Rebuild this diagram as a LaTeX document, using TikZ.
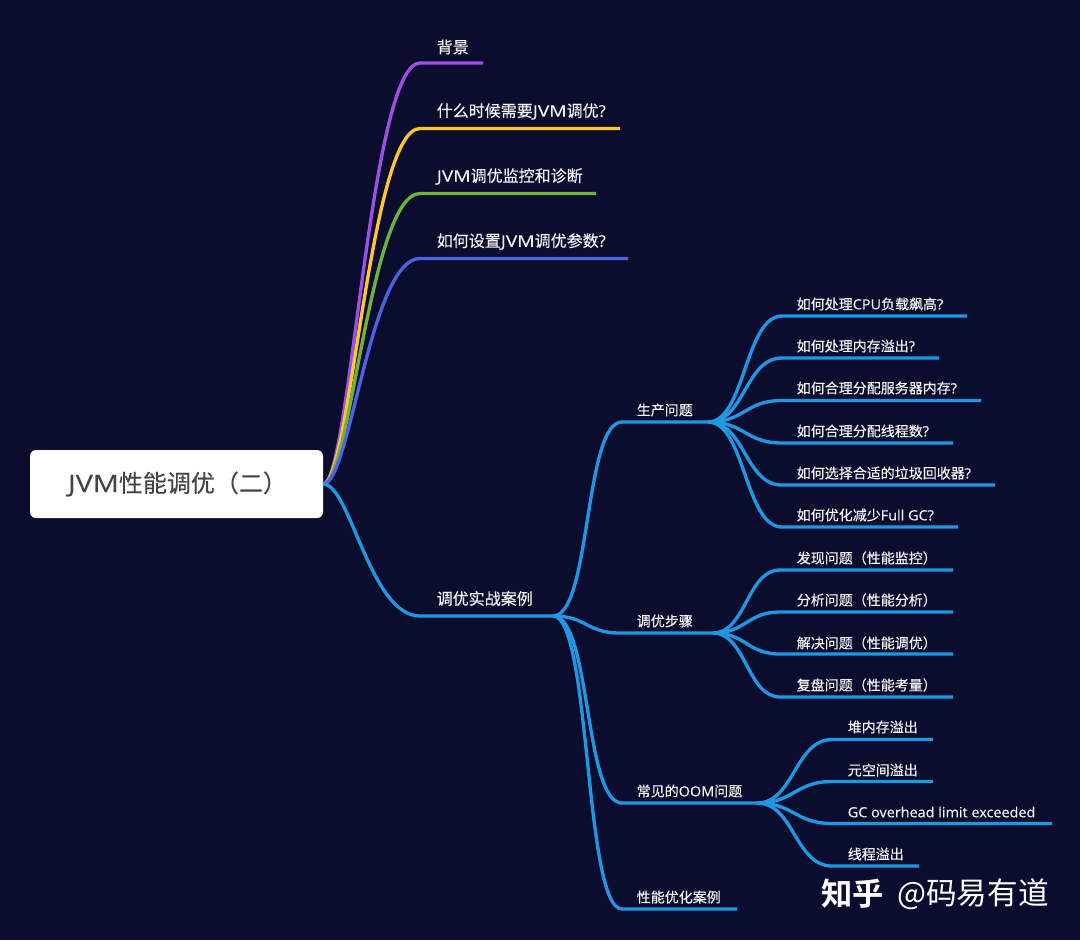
\documentclass[tikz,border=0pt]{standalone}
\usepackage{fontspec}
\setmainfont{Noto Sans CJK SC}[FakeBold=0.25]
\newfontfamily\latinf{Open Sans}[FakeStretch=1.03,FakeBold=0.25]
\newfontfamily\jvmf{Open Sans}[FakeStretch=1.2,FakeBold=0.25]
\newfontfamily\wmf{Noto Sans CJK SC}
\newfontfamily\wmbf{Noto Sans CJK SC}[BoldFont={Noto Sans CJK SC Bold}]
\newcommand{\la}[1]{{\latinf #1}}
\newcommand{\jvm}{{\jvmf JVM}}
\definecolor{bgc}{HTML}{0A0D2E}
\definecolor{cpurple}{HTML}{9B50E6}
\definecolor{cyellow}{HTML}{FFC62E}
\definecolor{cgreen}{HTML}{6FB43A}
\definecolor{cindigo}{HTML}{4F62E6}
\definecolor{cblue}{HTML}{1F98E4}
\definecolor{rootc}{HTML}{444444}
\definecolor{txtc}{HTML}{F4F4F4}
\tikzset{
  rootbox/.style={fill=white,rounded corners=4.5pt,minimum width=219.75pt,minimum height=51pt,inner sep=0pt,text=rootc,font=\fontsize{18}{18}\selectfont},
  lone/.style={anchor=west,inner sep=0pt,text=txtc,font=\fontsize{12}{12}\selectfont},
  ltwo/.style={anchor=west,inner sep=0pt,text=txtc,font=\fontsize{10.5}{10.5}\selectfont},
  wlink/.style={line width=2.5pt,line cap=butt,line join=round},
}
% \branch{colour}{from}{joint}{end}{c1 offset}{c2 offset}
\newcommand{\branch}[6]{\draw[wlink,#1] (#2) .. controls +(#5,0) and +(-#6,0) .. (#3) -- (#4);}
\begin{document}
\begin{tikzpicture}[x=0.75pt,y=-0.75pt]
\fill[bgc] (0,0) rectangle (1080,940);
\useasboundingbox (0,0) rectangle (1080,940);
\node[rootbox] (root) at (176.5,484) {\hspace*{1.5pt}\jvm 性能调优（二）};
% level 1
\node[lone] (a1) at (436.5,47) {背景};
\node[lone] (a2) at (436.5,111.5) {什么时候需要\jvm 调优\la{?}};
\node[lone] (a3) at (436.5,176.5) {\jvm 调优监控和诊断};
\node[lone] (a4) at (436.5,241.5) {如何设置\jvm 调优参数\la{?}};
\node[lone] (a5) at (436.5,598.5) {调优实战案例};
% level 2
\node[ltwo] (b1) at (636.5,410) {生产问题};
\node[ltwo] (b2) at (636.5,621) {调优步骤};
\node[ltwo] (b3) at (636.5,791) {常见的\la{OOM}问题};
\node[ltwo] (b4) at (636.5,897) {性能优化案例};
% leaves
\node[ltwo] (c1) at (796.5,304) {如何处理\la{CPU}负载飙高\la{?}};
\node[ltwo] (c2) at (796.5,346) {如何处理内存溢出\la{?}};
\node[ltwo] (c3) at (796.5,388) {如何合理分配服务器内存\la{?}};
\node[ltwo] (c4) at (796.5,431) {如何合理分配线程数\la{?}};
\node[ltwo] (c5) at (796.5,473) {如何选择合适的垃圾回收器\la{?}};
\node[ltwo] (c6) at (796.5,515) {如何优化减少\la{Full GC?}};
\node[ltwo] (d1) at (796.5,558) {发现问题（性能监控）};
\node[ltwo] (d2) at (796.5,600) {分析问题（性能分析）};
\node[ltwo] (d3) at (796.5,643) {解决问题（性能调优）};
\node[ltwo] (d4) at (796.5,685) {复盘问题（性能考量）};
\node[ltwo] (e1) at (847.5,727) {堆内存溢出};
\node[ltwo] (e2) at (847.5,770) {元空间溢出};
\node[ltwo] (e3) at (847.5,812) {\la{GC overhead limit exceeded}};
\node[ltwo] (e4) at (847.5,854) {线程溢出};
\node[anchor=west,inner sep=0pt,text=white,font=\fontsize{23.5}{24}\selectfont\wmbf\bfseries] (w1) at (821,894) {知乎};
\node[anchor=west,inner sep=0pt,text=white,font=\fontsize{23}{24}\selectfont\wmf] (w2) at (897,894) {@码易有道};
% joints and free ends
\foreach \n/\x/\y in {
 ja1/420/63,ea1/483/63,ja2/420/128.5,ea2/620/128.5,ja3/420/193.5,ea3/596/193.5,ja4/420/258.5,ea4/628/258.5,ja5/420/616,ea5/553/616,
 jb1/622/422,eb1/708/422,jb2/620/633,eb2/713/633,jb3/622/803,eb3/757/803,jb4/622/909,eb4/737/909,
 jc1/782/316,ec1/967/316,jc2/782/358,ec2/939/358,jc3/782/400.5,ec3/981/400.5,jc4/782/443,ec4/953/443,jc5/782/485,ec5/995/485,jc6/782/527,ec6/958/527,
 jd1/780/570,ed1/953/570,jd2/780/612,ed2/953/612,jd3/780/654,ed3/953/654,jd4/780/697,ed4/953/697,
 je1/832/739.5,ee1/933/739.5,je2/832/781.5,ee2/933/781.5,je3/832/823.5,ee3/1052/823.5,je4/832/866,ee4/919/866}
 {\coordinate (\n) at (\x,\y);}
% connectors
\branch{cpurple}{root.east}{ja1}{ea1}{27}{50}
\branch{cyellow}{root.east}{ja2}{ea2}{27}{50}
\branch{cgreen}{root.east}{ja3}{ea3}{27}{50}
\branch{cindigo}{root.east}{ja4}{ea4}{27}{50}
\branch{cblue}{root.east}{ja5}{ea5}{27}{50}
\branch{cblue}{ea5}{jb1}{eb1}{38}{38}
\branch{cblue}{ea5}{jb2}{eb2}{34}{34}
\branch{cblue}{ea5}{jb3}{eb3}{38}{38}
\branch{cblue}{ea5}{jb4}{eb4}{38}{38}
\foreach \i in {1,2,3,4,5,6}{\branch{cblue}{eb1}{jc\i}{ec\i}{37}{37}}
\foreach \i in {1,2,3,4}{\branch{cblue}{eb2}{jd\i}{ed\i}{33}{33}}
\foreach \i in {1,2,3,4}{\branch{cblue}{eb3}{je\i}{ee\i}{37}{37}}
\end{tikzpicture}
\end{document}
